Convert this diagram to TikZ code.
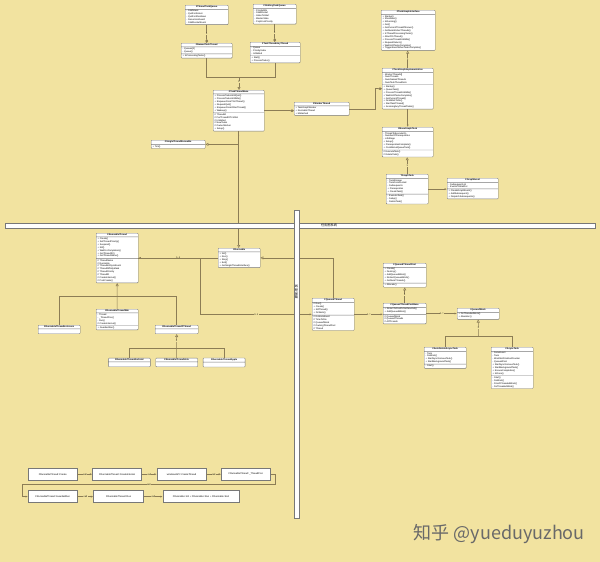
\documentclass[tikz,border=0pt]{standalone}
\usepackage{fontspec}
\setmainfont{Liberation Sans}
\newfontfamily\cjk{Noto Sans CJK SC}
\usetikzlibrary{arrows.meta, positioning, shapes.multipart}
\definecolor{bgyellow}{RGB}{242,227,160}
\definecolor{linecol}{RGB}{140,125,85}
\definecolor{boxline}{RGB}{120,120,120}
\definecolor{markgray}{RGB}{105,105,105}
\newcommand{\umltitle}[1]{\hbox to\hsize{\hss\bfseries #1\hss}}

\begin{document}
\begin{tikzpicture}[
x=1pt, y=-1pt,
node distance=15pt and 15pt,
every node/.style={font=\fontsize{2.3}{2.9}\selectfont},
umlclass/.style={rectangle split, rectangle split parts=3, draw=boxline, fill=white, rounded corners=0.8pt, line width=0.4pt, align=left, inner xsep=1.5pt, inner ysep=0.8pt, anchor=north west},
stepbox/.style={rectangle, draw=boxline, fill=white, line width=0.4pt, minimum height=12pt, inner sep=1pt, font=\fontsize{2.4}{3}\selectfont},
link/.style={draw=linecol, line width=0.5pt},
inherit/.style={link, -{Triangle[open, length=3pt, width=3pt]}},
compose/.style={link, -{Diamond[length=4pt, width=2.6pt, fill=linecol]}},
assoc/.style={link, -{Latex[length=2.5pt, width=2pt]}},
lbl/.style={font=\fontsize{2.3}{2.8}\selectfont, fill=bgyellow, inner sep=0.4pt},
sepbar/.style={draw=boxline, fill=white, line width=0.4pt}
]

\fill[bgyellow] (0,0) rectangle (600,562);

% task graph
\node[umlclass, rectangle split parts=2, text width=40pt] (taskqueue) at (185,5) {\umltitle{FThreadTaskQueue}
\nodepart{two} - StallStack\\ - QuitForReturn\\ - QuitForShutdown\\ - RecursionGuard\\ - StallRestartEvent};
\node[umlclass, rectangle split parts=2, text width=40pt] (stallqueue) at (253,4) {\umltitle{FStallingTaskQueue}
\nodepart{two} - PriorityBits\\ - StallRestart\\ - IndexToStart\\ - MasterState\\ - PopFromPriority};
\node[umlclass, text width=48pt] (namedthread) at (181,43) {\umltitle{FNamedTaskThread}
\nodepart{two} - Queues[2]\\ - Queue()
\nodepart{three} + IsProcessingTasks()};
\node[umlclass, text width=47pt] (anythread) at (250,42) {\umltitle{FTaskThreadAnyThread}
\nodepart{two} - Queue\\ - PriorityIndex\\ - IsStalled
\nodepart{three} + Stall()\\ + ProcessTasks()};
\node[umlclass, text width=48pt] (threadbase) at (213,90) {\umltitle{FTaskThreadBase}
\nodepart{two} + ProcessTasksUntilQuit()\\ + ProcessTasksUntilIdle()\\ + EnqueueFromThisThread()\\ + RequestQuit()\\ + EnqueueFromOtherThread()\\ + Wakeup()
\nodepart{three} \# ThreadId\\ \# PerThreadIDTLSSlot\\ \# IsStalled\\ \# NewTasks\\ \# OwnerWorker\\ + Setup()};
\node[umlclass, rectangle split parts=2, text width=52pt] (worker) at (294,102) {\umltitle{FWorkerThread}
\nodepart{two} + TaskGraphWorker\\ + RunnableThread\\ + bAttached};
\node[umlclass, rectangle split parts=2, text width=51pt] (singlerun) at (151,140) {\umltitle{FSingleThreadRunnable}
\nodepart{two} + Tick()};
\node[umlclass, rectangle split parts=2, text width=51pt] (graphiface) at (381,10) {\umltitle{FTaskGraphInterface}
\nodepart{two} + Startup()\\ + Shutdown()\\ + IsRunning()\\ + Get()\\ + GetCurrentThreadIfKnown()\\ + GetNumWorkerThreads()\\ + IsThreadProcessingTasks()\\ + AttachToThread()\\ + ProcessThreadUntilIdle()\\ + RequestReturn()\\ + WaitUntilTasksComplete()\\ + TriggerEventWhenTasksComplete()};
\node[umlclass, text width=48pt] (graphimpl) at (382,68) {\umltitle{FTaskGraphImplementation}
\nodepart{two} - WorkerThreads[]\\ - NumThreads\\ - NumNamedThreads\\ - NumTaskThreadSets
\nodepart{three} + Startup()\\ + QueueTask()\\ + ProcessThreadUntilIdle()\\ + WaitUntilTasksComplete()\\ + GetCurrentThread()\\ + FindWorkToDo()\\ + StartTaskThread()\\ + IncomingAnyThreadTasks()};
\node[umlclass, text width=48pt] (basetask) at (382,127) {\umltitle{FBaseGraphTask}
\nodepart{two} - ThreadToExecuteOn\\ - NumberOfPrerequistites\\ - LifeStage\\ + Setup()\\ + PrerequisitesComplete()\\ + ConditionalQueueTask()
\nodepart{three} \# ExecuteTask()\\ \# DeleteTask()};
\node[umlclass, text width=39pt] (graphtask) at (386,174) {\umltitle{TGraphTask}
\nodepart{two} - TaskStorage\\ - TaskConstructed\\ - Subsequents\\ + Prerequisites\\ + CreateTask()
\nodepart{three} - ExecuteTask()\\ - Setup()\\ - DeleteTask()};
\node[umlclass, text width=48pt] (graphevent) at (447,178) {\umltitle{FGraphEvent}
\nodepart{two} - SubsequentList\\ - EventsToWaitFor
\nodepart{three} + CreateGraphEvent()\\ + AddSubsequent()\\ + DispatchSubsequents()};

% threads
\node[umlclass, text width=39pt] (runthread) at (96,233) {\umltitle{FRunnableThread}
\nodepart{two} + Create()\\ + SetThreadPriority()\\ + Suspend()\\ + Kill()\\ + WaitForCompletion()\\ + GetThreadID()\\ + GetThreadName()
\nodepart{three} \# ThreadName\\ \# Runnable\\ \# ThreadInitSyncEvent\\ \# ThreadAffinityMask\\ \# ThreadPriority\\ \# ThreadID\\ \# CreateInternal()\\ \# PostCreate()};
\node[umlclass, rectangle split parts=2, text width=39pt] (runnable) at (218,248) {\umltitle{FRunnable}
\nodepart{two} + Init()\\ + Run()\\ + Stop()\\ + Exit()\\ + GetSingleThreadInterface()};
\node[umlclass, rectangle split parts=2, text width=39pt] (threadhololens) at (38,325) {\umltitle{FRunnableThreadHoloLens}
\nodepart{two} \strut};
\node[umlclass, text width=39pt] (threadwin) at (96,309) {\umltitle{FRunnableThreadWin}
\nodepart{two} - Thread\\ - \_ThreadProc()\\ - Run()\\ \# CreateInternal()
\nodepart{three} + GuardedRun()};
\node[umlclass, rectangle split parts=2, text width=40pt] (threadpthread) at (155,325) {\umltitle{FRunnableThreadPThread}
\nodepart{two} \strut};
\node[umlclass, rectangle split parts=2, text width=39pt, below=24pt of threadpthread] (threadunix) {\umltitle{FRunnableThreadUnix}
\nodepart{two} \strut};
\node[umlclass, rectangle split parts=2, text width=39pt, left=5pt of threadunix] (threadandroid) {\umltitle{FRunnableThreadAndroid}
\nodepart{two} \strut};
\node[umlclass, rectangle split parts=2, text width=39pt, right=5pt of threadunix] (threadapple) {\umltitle{FRunnableThreadApple}
\nodepart{two} \strut};

% thread pool
\node[umlclass, text width=39pt] (queuedthread) at (312,298) {\umltitle{FQueuedThread}
\nodepart{two} \# Run()\\ + Create()\\ + KillThread()\\ + DoWork()
\nodepart{three} \# DoWorkEvent\\ \# TimeToDie\\ \# QueuedWork\\ \# OwningThreadPool\\ \# Thread};
\node[umlclass, text width=40pt] (threadpool) at (383,263) {\umltitle{FQueuedThreadPool}
\nodepart{two} + Create()\\ + Destroy()\\ + AddQueuedWork()\\ + RetractQueuedWork()\\ + GetNumThreads()
\nodepart{three} + Allocate()};
\node[umlclass, text width=40pt] (poolbase) at (383,303) {\umltitle{FQueuedThreadPoolBase}
\nodepart{two} + ReturnToPoolOrGetNextJob()\\ + AddQueuedWork()
\nodepart{three} \# QueuedWork\\ \# QueuedThreads\\ \# AllThreads};
\node[umlclass, rectangle split parts=2, text width=39pt] (queuedwork) at (457,308) {\umltitle{IQueuedWork}
\nodepart{two} + DoThreadedWork()\\ + Abandon()};
\node[umlclass, text width=39pt] (autodeltask) at (424,347) {\umltitle{FAutoDeleteAsyncTask}
\nodepart{two} - Task\\ - DoWork()\\ + StartSynchronousTask()\\ + StartBackgroundTask()
\nodepart{three} - Start()};
\node[umlclass, text width=39pt] (asynctask) at (491,347) {\umltitle{FAsyncTask}
\nodepart{two} - DoneEvent\\ - Task\\ - WorkNotFinishedCounter\\ - QueuedPool\\ + StartSynchronousTask()\\ + StartBackgroundTask()\\ + EnsureCompletion()\\ + IsDone()
\nodepart{three} - Start()\\ - DoWork()\\ - FinishThreadedWork()\\ - DoThreadedWork()};

% call flow
\node[stepbox, minimum width=49pt, anchor=north west] (create) at (28,468) {FRunnableThread::Create};
\node[stepbox, minimum width=49pt, right=of create] (createinternal) {FRunnableThread::CreateInternal};
\node[stepbox, minimum width=49pt, right=of createinternal] (winapi) {windowsAPI::CreateThread};
\node[stepbox, minimum width=49pt, right=of winapi] (threadproc) {FRunnableThread::\_ThreadProc};
\node[stepbox, minimum width=49pt, below=10pt of create] (guardedrun) {FRunnableThread::GuardedRun};
\node[stepbox, minimum width=50pt, right=16pt of guardedrun] (threadrun) {FRunnableThread::Run};
\node[stepbox, minimum width=76pt, right=19pt of threadrun] (runnablecalls) {FRunnable::Init + FRunnable::Run + FRunnable::Exit};

% connectors, top
\draw[compose] (taskqueue.south) -- node[lbl]{1} (taskqueue.south |- namedthread.north);
\draw[compose] (stallqueue.south) -- node[lbl]{1} (stallqueue.south |- anythread.north);
\coordinate (basejoin) at (239,77);
\draw[link] (namedthread.south) |- (basejoin);
\draw[link] (anythread.south) |- (basejoin);
\draw[inherit] (basejoin) -- node[lbl, pos=0.4]{1} (basejoin |- threadbase.north);
\draw[compose] (threadbase.east) -- (threadbase.east -| worker.west);
\draw[compose] (worker.east) -- ++(26,0) |- (graphimpl.west);
\draw[inherit] (graphimpl.north) -- node[lbl]{1} (graphimpl.north |- graphiface.south);
\draw[assoc] (graphimpl.south) -- (graphimpl.south |- basetask.north);
\draw[inherit] (graphtask.north) -- node[lbl]{1} (graphtask.north |- basetask.south);
\draw[assoc] (graphtask.east) -- (graphtask.east -| graphevent.west);
\draw[inherit] (threadbase.south) |- node[lbl, pos=0.15]{1} (singlerun.east);
\draw[inherit] (threadbase.south) -- (threadbase.south |- runnable.north);

% connectors, bottom
\draw[assoc] (runnable.west) -- node[lbl]{1..1} (runnable.west -| runthread.east);
\draw[inherit] (queuedthread.north) |- node[lbl, pos=0.75]{1..1} (runnable.east);
\draw[assoc] (runnable.west -| runthread.east) -- ++(62,0) |- node[lbl, pos=0.75]{0..1} (queuedthread.west);
\coordinate (runbus) at (117,296);
\draw[link] (threadhololens.north) |- (runbus);
\draw[link] (threadpthread.north) |- (runbus);
\draw[link] (threadwin.north) -- (runbus);
\draw[inherit] (runbus) -- (runthread.south);
\coordinate (pthreadbus) at (176.5,348);
\draw[link] (threadandroid.north) |- (pthreadbus);
\draw[link] (threadapple.north) |- (pthreadbus);
\draw[link] (threadunix.north) -- (pthreadbus);
\draw[inherit] (pthreadbus) -- node[lbl]{1} (threadpthread.south);
\draw[assoc] (queuedthread.east) -- node[lbl]{1..*} (queuedthread.east -| poolbase.west);
\draw[inherit] (poolbase.north) -- node[lbl]{1} (poolbase.north |- threadpool.south);
\draw[assoc] (poolbase.east) -- node[lbl]{0..*} (poolbase.east -| queuedwork.west);
\coordinate (workbus) at (478.5,336);
\draw[link] (autodeltask.north) |- (workbus);
\draw[link] (asynctask.north) |- (workbus);
\draw[inherit] (workbus) -- node[lbl]{1} (queuedwork.south);

% call flow arrows
\draw[assoc] (create) -- node[lbl]{call} (createinternal);
\draw[assoc] (createinternal) -- node[lbl]{call} (winapi);
\draw[assoc] (winapi) -- node[lbl]{call} (threadproc);
\draw[assoc] (threadproc.east) -- ++(5,0) -- ++(0,10) -| node[lbl, pos=0.25]{call} ([xshift=-6pt]guardedrun.west) -- (guardedrun.west);
\draw[assoc] (guardedrun) -- node[lbl]{call} (threadrun);
\draw[assoc] (threadrun) -- node[lbl]{call} (runnablecalls);

% separators
\draw[sepbar] (5,223) rectangle (595,228);
\node[font=\cjk\fontsize{3.2}{3.2}\selectfont, inner sep=0pt] (toplabel) at (329,225.5) {任务图系统};
\draw[sepbar] (294,210) rectangle (299,518);
\node[font=\cjk\fontsize{3.2}{3.8}\selectfont, align=center, inner sep=0pt] (sidelabel) at (296.5,292) {线\\程\\基\\础};

\node[font=\cjk\fontsize{18}{18}\selectfont, text=markgray, anchor=east, inner sep=0pt] (watermark) at (585,534) {知乎 @yueduyuzhou};

\end{tikzpicture}
\end{document}
